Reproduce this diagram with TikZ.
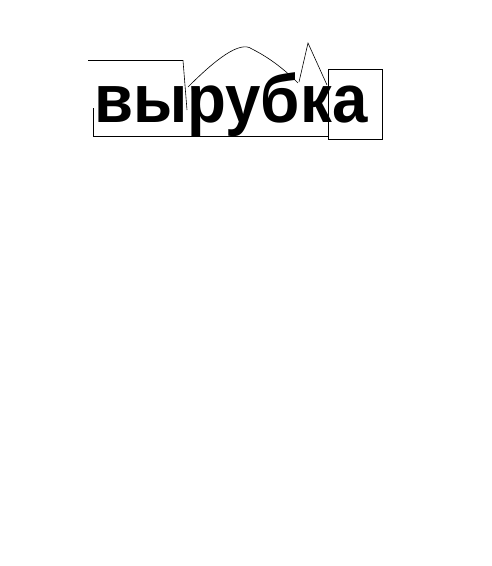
\documentclass[tikz,border=0pt]{standalone}
\usepackage{fontspec}
\setmainfont{Liberation Sans}
\tikzset{
  mark line/.style={line width=0.6pt, black},
  word/.style={font=\bfseries\fontsize{68}{68}\selectfont, inner sep=0pt, xscale=0.935}
}
\begin{document}
\begin{tikzpicture}[x=1pt, y=-1pt]
  %%%%% START %%%%%
  \useasboundingbox (0,0) rectangle (492,566);

  \node[word, anchor=base west] (w) at (94,122) {вырубка};

  % prefix
  \draw[mark line] (88,60.5) -- (183,60.5) -- (187,110);
  % root
  \draw[mark line] (188,87) .. controls (215,60) and (240,40) .. (252,49)
    .. controls (270,58) and (285,70) .. (298,83);
  % suffix
  \draw[mark line] (299,82) -- (308,43) -- (327,85);
  % ending
  \draw[mark line] (328,69) rectangle (382,139);
  % base
  \draw[mark line] (93,108) -- (93,136) -- (328,136);

  %%%%% END %%%%%
\end{tikzpicture}
\end{document}
